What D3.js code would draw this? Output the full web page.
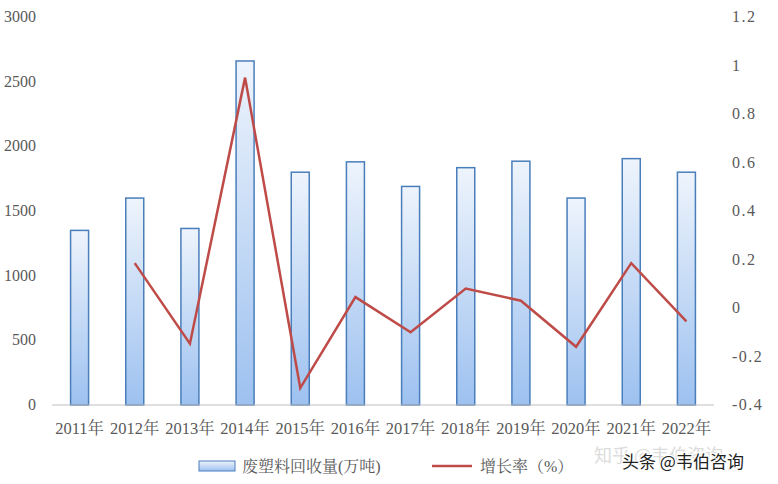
<!DOCTYPE html><html><head><meta charset="utf-8">
<script src="https://cdn.jsdelivr.net/npm/d3@7/dist/d3.min.js"></script>
<style>body{margin:0;background:#fff}</style></head><body>
<svg id="c" width="778" height="484"></svg>
<script>
const categories=["2011年","2012年","2013年","2014年","2015年","2016年","2017年","2018年","2019年","2020年","2021年","2022年"];
const volume=[1350,1600,1365,2660,1800,1880,1690,1835,1885,1600,1905,1800];
const growth=[null,0.185,-0.147,0.95,-0.33,0.045,-0.10,0.08,0.03,-0.16,0.185,-0.055];
const leftTicks=[0,500,1000,1500,2000,2500,3000];
const rightTicks=[-0.4,-0.2,0,0.2,0.4,0.6,0.8,1,1.2];
const svg=d3.select("#c");
const L=52,R=714,T=17,B=405;
const x=d3.scaleBand().domain(categories).range([L,R]);
const y=d3.scaleLinear().domain([0,3000]).range([B,T]);
const y2=d3.scaleLinear().domain([-0.4,1.2]).range([B,T]);
const font="'Liberation Serif','Noto Serif CJK SC','Noto Sans CJK SC',serif";
const g=svg.append("defs").append("linearGradient").attr("id","gr").attr("x1",0).attr("y1",0).attr("x2",0).attr("y2",1);
g.append("stop").attr("offset","0%").attr("stop-color","#eef4fc");
g.append("stop").attr("offset","100%").attr("stop-color","#9dc1f0");
svg.selectAll("rect.b").data(volume).join("rect").attr("class","b")
 .attr("x",(d,i)=>x(categories[i])+x.bandwidth()/2-9).attr("width",18)
 .attr("y",d=>y(d)).attr("height",d=>B-y(d))
 .attr("fill","url(#gr)").attr("stroke","#4a7ebb").attr("stroke-width",1.5);
svg.append("line").attr("x1",L).attr("x2",R).attr("y1",B).attr("y2",B).attr("stroke","#bfbfbf");
svg.selectAll("text.l").data(leftTicks).join("text").attr("x",36).attr("y",d=>y(d)+5)
 .attr("text-anchor","end").attr("font-family",font).attr("font-size",16).attr("fill","#595959").text(d=>d);
svg.selectAll("text.r").data(rightTicks).join("text").attr("x",732).attr("y",d=>y2(d)+5)
 .attr("font-family",font).attr("font-size",16).attr("fill","#595959").attr("letter-spacing",1.5).text(d=>d3.format("")(d).replace("−","-"));
svg.selectAll("text.x").data(categories).join("text").attr("x",d=>x(d)+x.bandwidth()/2).attr("y",434)
 .attr("text-anchor","middle").attr("font-family",font).attr("font-size",16.5).attr("fill","#595959").text(d=>d);
const pts=growth.map((v,i)=>[categories[i],v]).filter(p=>p[1]!=null);
svg.append("path").datum(pts).attr("fill","none").attr("stroke","#be4b48").attr("stroke-width",2.5)
 .attr("d",d3.line().x(p=>x(p[0])+x.bandwidth()/2).y(p=>y2(p[1])));
svg.append("rect").attr("x",199).attr("y",461).attr("width",36).attr("height",10).attr("fill","url(#gr)").attr("stroke","#4a7ebb");
svg.append("text").attr("x",242).attr("y",472).attr("font-family",font).attr("font-size",16).attr("fill","#595959").text("废塑料回收量(万吨)");
svg.append("line").attr("x1",432).attr("x2",472).attr("y1",466).attr("y2",466).attr("stroke","#be4b48").attr("stroke-width",2.5);
svg.append("text").attr("x",480).attr("y",472).attr("font-family",font).attr("font-size",16).attr("fill","#595959").text("增长率（%）");
svg.append("text").attr("x",594).attr("y",462).attr("font-family","'Noto Sans CJK SC'").attr("font-size",18).attr("fill","#dcdcdc").text("知乎 @韦伯咨询");
svg.append("text").attr("x",622).attr("y",468).attr("font-family","'Noto Sans CJK SC'").attr("font-size",17).attr("fill","#222").attr("stroke","#fff").attr("stroke-width",2.5).attr("paint-order","stroke").text("头条 @韦伯咨询");
</script></body></html>
